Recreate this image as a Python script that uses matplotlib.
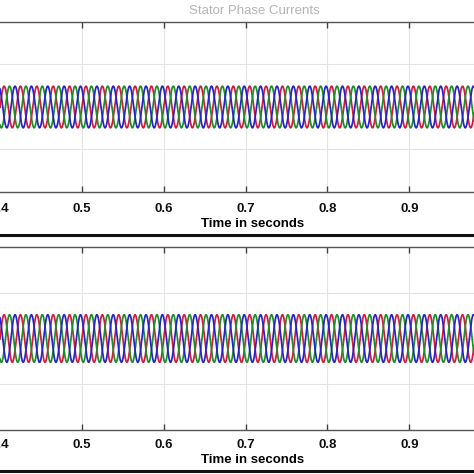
import numpy as np
import matplotlib
matplotlib.use('Agg')
from matplotlib import pyplot as plt
from matplotlib.lines import Line2D

# readings from the picture
phase_names = ['a', 'b', 'c']
phase_colors = ['#d01c3c', '#1e8c28', '#2424c8']
phase_shift_deg = [0, -120, 120]
freq_hz = 50.0
amp_top = 0.49
amp_bottom = 0.52
x_ticks = [0.4, 0.5, 0.6, 0.7, 0.8, 0.9]
x_tick_labels = ['0.4', '0.5', '0.6', '0.7', '0.8', '0.9']
y_grid = [-1, 0, 1]
title_text = 'Stator Phase Currents'
xlabel_text = 'Time in seconds'

H = 474.0


def style_axes(ax, fig, pad, label_y):
    ax.set_xlim(0.4025, 0.979)
    ax.set_ylim(-2, 2)
    ax.set_xticks(x_ticks)
    ax.set_xticklabels(x_tick_labels, fontweight='bold', fontsize=9.5)
    ax.set_yticks(y_grid)
    ax.set_yticklabels([])
    ax.tick_params(axis='x', direction='in', length=4, width=1, colors='#444444',
                   top=True, bottom=True, pad=pad, labelcolor='#111111')
    ax.tick_params(axis='y', length=0)
    ax.grid(True, color='#e4e4e4', linewidth=0.8)
    ax.set_axisbelow(True)
    # the 0.4 tick sits just off the left edge; only its label shows
    first = ax.xaxis.get_major_ticks()[0]
    first.tick1line.set_visible(False)
    first.tick2line.set_visible(False)
    first.gridline.set_visible(False)
    for s in ['left', 'right']:
        ax.spines[s].set_visible(False)
    for s in ['top', 'bottom']:
        ax.spines[s].set_color('#555555')
        ax.spines[s].set_linewidth(1.0)
    ax.set_xlabel(xlabel_text, fontweight='bold', fontsize=9.5)
    ax.xaxis.label.set_va('center')
    ax.xaxis.set_label_coords(253 / H, 1 - label_y / H, transform=fig.transFigure)


def main():
    plt.rcParams['font.family'] = ['Liberation Sans', 'DejaVu Sans']
    fig = plt.figure(figsize=(4.74, 4.74), dpi=100)
    ax1 = fig.add_axes([0, 1 - 192 / H, 1, 170 / H])
    ax2 = fig.add_axes([0, 1 - 430 / H, 1, 183 / H])

    t = np.linspace(0.38, 1.0, 6000)
    for ax, amp, pad, ly in [(ax1, amp_top, 8, 224), (ax2, amp_bottom, 6.5, 460)]:
        for name, col, sh in zip(phase_names, phase_colors, phase_shift_deg):
            ax.plot(t, amp * np.sin(2 * np.pi * freq_hz * t + np.deg2rad(sh)),
                    color=col, linewidth=1.25)
        style_axes(ax, fig, pad, ly)

    fig.text(254 / H, 1 - 11 / H, title_text, ha='center', va='center',
             color='#b4b4b4', fontsize=9.5)

    # window borders of the screenshot
    for yy in [235, 470.5]:
        fig.add_artist(Line2D([0, 1], [1 - yy / H, 1 - yy / H], color='#111111',
                              linewidth=2.2, transform=fig.transFigure))

    fig.savefig('out.png', dpi=100)


if __name__ == '__main__':
    main()
